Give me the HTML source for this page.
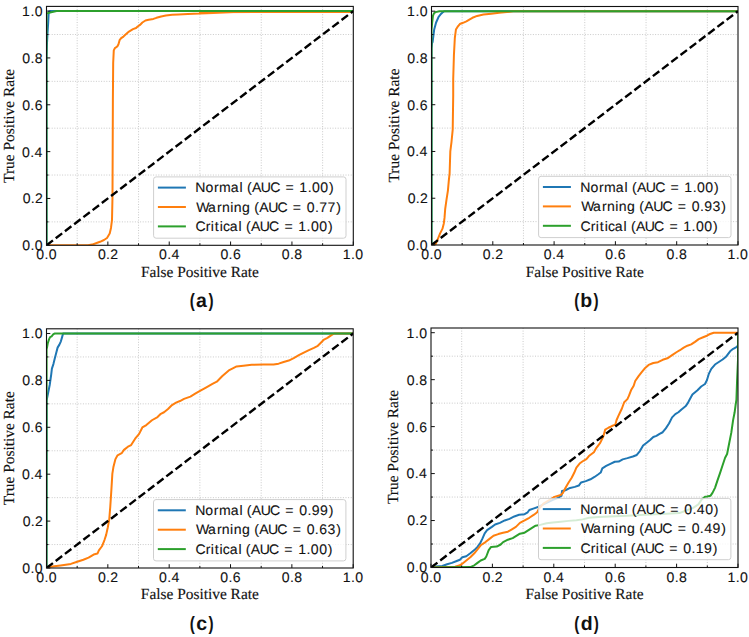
<!DOCTYPE html><html><head><meta charset="utf-8"><style>html,body{margin:0;padding:0;background:#fff;width:749px;height:637px;overflow:hidden}svg{display:block;text-rendering:geometricPrecision}.t{font-family:"Liberation Sans",sans-serif;font-size:13.8px;fill:#111;stroke:#111;stroke-width:0.1px}.l{font-family:"Liberation Sans",sans-serif;font-size:13.8px;fill:#111;stroke:#111;stroke-width:0.1px}.s{font-family:"Liberation Serif",serif;font-size:15.4px;fill:#111;stroke:#111;stroke-width:0.15px}.p{font-family:"Liberation Sans",sans-serif;font-size:19.5px;font-weight:bold;fill:#111}</style></head><body>
<svg width="749" height="637" viewBox="0 0 749 637">
<rect width="749" height="637" fill="#fff"/>
<g>
<path d="M77.18 6.40V245.30M46.50 221.88H353.30M138.54 6.40V245.30M46.50 175.04H353.30M199.90 6.40V245.30M46.50 128.19H353.30M261.26 6.40V245.30M46.50 81.35H353.30M322.62 6.40V245.30M46.50 34.51H353.30" stroke="#c4c4c4" stroke-width="0.9" stroke-dasharray="1 1.6" fill="none"/>
<clipPath id="clipa"><rect x="46.50" y="6.40" width="306.80" height="238.90"/></clipPath>
<g clip-path="url(#clipa)" fill="none" stroke-width="2" stroke-linejoin="round" stroke-linecap="butt">
<path d="M46.50,245.30 46.50,57.93 46.96,43.87 47.57,32.16 48.19,22.80 48.59,14.60 48.95,11.55 50.18,11.08 353.30,11.08" stroke="#1f77b4"/>
<path d="M46.50,245.30 88.01,245.30 92.00,244.60 95.99,243.19 99.98,241.81 103.99,240.01 107.00,237.99 109.70,233.59 110.99,227.99 112.00,219.98 112.48,197.50 112.68,150.40 112.88,100.30 113.18,63.02 113.78,50.39 114.88,48.09 117.28,46.48 118.48,44.18 119.58,40.17 121.18,38.17 123.47,36.56 125.87,34.36 128.97,31.55 132.97,29.15 136.07,28.05 137.67,26.54 139.97,24.94 142.37,22.53 145.47,20.53 148.67,19.73 153.37,18.93 156.46,17.82 161.16,16.42 165.86,15.52 172.16,14.72 178.46,14.42 187.85,14.12 199.95,13.62 219.94,12.71 239.94,12.01 257.93,11.08 199.90,12.14 276.60,12.02 350.23,11.90 353.30,11.08" stroke="#ff7f0e"/>
<path d="M46.50,245.30 46.50,13.43 51.10,12.26 56.62,11.08 353.30,11.08" stroke="#2ca02c"/>
<path d="M46.50 245.30L353.30 11.08" stroke="#000" stroke-width="2.4" stroke-dasharray="8.1 3.5" fill="none"/>
</g>
<path d="M46.50 245.30v-3.8M46.50 245.30h3.8M107.86 245.30v-3.8M46.50 198.46h3.8M169.22 245.30v-3.8M46.50 151.61h3.8M230.58 245.30v-3.8M46.50 104.77h3.8M291.94 245.30v-3.8M46.50 57.93h3.8M353.30 245.30v-3.8M46.50 11.08h3.8M77.18 245.30v-2M46.50 221.88h2M138.54 245.30v-2M46.50 175.04h2M199.90 245.30v-2M46.50 128.19h2M261.26 245.30v-2M46.50 81.35h2M322.62 245.30v-2M46.50 34.51h2" stroke="#111" stroke-width="1" fill="none"/>
<rect x="46.50" y="6.40" width="306.80" height="238.90" fill="none" stroke="#111" stroke-width="1.1"/>
<text class="t" transform="translate(36.09,259.30) scale(1.02,1)" x="0.25 8.29 12.50">0.0</text>
<text class="t" transform="translate(21.94,250.20) scale(1.02,1)" x="0.25 8.29 12.50">0.0</text>
<text class="t" transform="translate(97.67,259.30) scale(1.02,1)" x="0.25 8.29 12.33">0.2</text>
<text class="t" transform="translate(22.38,203.36) scale(1.02,1)" x="0.25 8.29 12.33">0.2</text>
<text class="t" transform="translate(158.74,259.30) scale(1.02,1)" x="0.25 8.29 12.50">0.4</text>
<text class="t" transform="translate(21.80,156.51) scale(1.02,1)" x="0.25 8.29 12.50">0.4</text>
<text class="t" transform="translate(220.14,259.30) scale(1.02,1)" x="0.25 8.29 12.50">0.6</text>
<text class="t" transform="translate(21.89,109.67) scale(1.02,1)" x="0.25 8.29 12.50">0.6</text>
<text class="t" transform="translate(281.54,259.30) scale(1.02,1)" x="0.25 8.29 12.50">0.8</text>
<text class="t" transform="translate(21.96,62.83) scale(1.02,1)" x="0.25 8.29 12.50">0.8</text>
<text class="t" transform="translate(342.60,259.30) scale(1.02,1)" x="0.17 8.29 12.50">1.0</text>
<text class="t" transform="translate(21.94,15.98) scale(1.02,1)" x="0.17 8.29 12.50">1.0</text>
<text class="s" x="199.90" y="276.90" text-anchor="middle">False Positive Rate</text>
<text class="s" transform="translate(13.60,125.90) rotate(-90)" x="0" y="0" text-anchor="middle">True Positive Rate</text>
<text class="p" transform="translate(192.75,306.90) scale(0.78,1)" x="-3.72">(</text>
<text class="p" transform="translate(201.80,306.90) scale(1.0,1)" x="-5.77">a</text>
<text class="p" transform="translate(210.75,306.90) scale(0.78,1)" x="-2.77">)</text>
<rect x="153.60" y="176.90" width="192.40" height="61.30" rx="2.5" fill="#fff" fill-opacity="0.8" stroke="#cfcfcf" stroke-width="1"/>
<path d="M157.90 187.60h28" stroke="#1f77b4" stroke-width="2" fill="none"/>
<text class="l" transform="translate(195.51,192.30) scale(1.02,1)" x="-0.18 9.70 18.05 23.06 34.64 43.15 46.59 50.41 55.35 64.06 73.17 82.84 88.15 97.68 101.81 109.93 114.14 122.31 130.79">Normal (AUC = 1.00)</text>
<path d="M157.90 207.00h28" stroke="#ff7f0e" stroke-width="2" fill="none"/>
<text class="l" transform="translate(196.37,211.70) scale(1.02,1)" x="-0.17 11.48 20.33 25.06 33.20 36.77 44.81 52.93 56.74 61.68 70.40 79.51 89.17 94.49 104.02 108.22 116.26 120.45 128.62 137.13">Warning (AUC = 0.77)</text>
<path d="M157.90 226.40h28" stroke="#2ca02c" stroke-width="2" fill="none"/>
<text class="l" transform="translate(196.06,231.10) scale(1.02,1)" x="-0.57 9.55 14.51 18.38 23.11 26.35 33.09 41.60 45.04 48.86 53.80 62.52 71.62 81.29 86.60 96.13 100.26 108.38 112.59 120.76 129.25">Critical (AUC = 1.00)</text>
</g>
<g>
<path d="M462.15 6.50V245.00M431.50 221.62H738.00M523.45 6.50V245.00M431.50 174.85H738.00M584.75 6.50V245.00M431.50 128.09H738.00M646.05 6.50V245.00M431.50 81.32H738.00M707.35 6.50V245.00M431.50 34.56H738.00" stroke="#c4c4c4" stroke-width="0.9" stroke-dasharray="1 1.6" fill="none"/>
<clipPath id="clipb"><rect x="431.50" y="6.50" width="306.50" height="238.50"/></clipPath>
<g clip-path="url(#clipb)" fill="none" stroke-width="2" stroke-linejoin="round" stroke-linecap="butt">
<path d="M431.50,245.00 431.50,48.52 432.10,42.92 432.60,42.01 434.20,29.41 436.10,22.51 438.60,16.80 441.21,13.70 443.01,12.10 444.21,11.18 738.00,11.18" stroke="#1f77b4"/>
<path d="M431.50,245.00 435.60,244.40 437.90,238.90 440.11,233.40 442.41,228.89 443.81,223.39 444.51,217.89 445.21,208.78 446.51,199.68 447.91,190.58 448.81,180.57 449.61,173.27 450.31,151.46 451.51,141.76 452.71,129.55 453.21,95.54 453.21,79.03 453.91,55.42 454.82,38.21 455.92,29.51 457.52,26.91 459.82,24.01 463.02,22.81 466.42,21.41 469.32,19.71 472.43,17.80 477.13,15.90 483.43,14.60 491.24,13.70 499.14,12.70 506.95,12.10 513.25,11.18 520.36,11.18 738.00,11.18" stroke="#ff7f0e"/>
<path d="M431.50,245.00 431.50,30.51 432.10,23.11 433.00,15.60 434.00,13.30 435.50,12.10 439.31,11.18 738.00,11.18" stroke="#2ca02c"/>
<path d="M431.50 245.00L738.00 11.18" stroke="#000" stroke-width="2.4" stroke-dasharray="8.1 3.5" fill="none"/>
</g>
<path d="M431.50 245.00v-3.8M431.50 245.00h3.8M492.80 245.00v-3.8M431.50 198.24h3.8M554.10 245.00v-3.8M431.50 151.47h3.8M615.40 245.00v-3.8M431.50 104.71h3.8M676.70 245.00v-3.8M431.50 57.94h3.8M738.00 245.00v-3.8M431.50 11.18h3.8M462.15 245.00v-2M431.50 221.62h2M523.45 245.00v-2M431.50 174.85h2M584.75 245.00v-2M431.50 128.09h2M646.05 245.00v-2M431.50 81.32h2M707.35 245.00v-2M431.50 34.56h2" stroke="#111" stroke-width="1" fill="none"/>
<rect x="431.50" y="6.50" width="306.50" height="238.50" fill="none" stroke="#111" stroke-width="1.1"/>
<text class="t" transform="translate(421.09,259.10) scale(1.02,1)" x="0.25 8.29 12.50">0.0</text>
<text class="t" transform="translate(406.94,249.90) scale(1.02,1)" x="0.25 8.29 12.50">0.0</text>
<text class="t" transform="translate(482.61,259.10) scale(1.02,1)" x="0.25 8.29 12.33">0.2</text>
<text class="t" transform="translate(407.38,203.14) scale(1.02,1)" x="0.25 8.29 12.33">0.2</text>
<text class="t" transform="translate(543.62,259.10) scale(1.02,1)" x="0.25 8.29 12.50">0.4</text>
<text class="t" transform="translate(406.80,156.37) scale(1.02,1)" x="0.25 8.29 12.50">0.4</text>
<text class="t" transform="translate(604.96,259.10) scale(1.02,1)" x="0.25 8.29 12.50">0.6</text>
<text class="t" transform="translate(406.89,109.61) scale(1.02,1)" x="0.25 8.29 12.50">0.6</text>
<text class="t" transform="translate(666.30,259.10) scale(1.02,1)" x="0.25 8.29 12.50">0.8</text>
<text class="t" transform="translate(406.96,62.84) scale(1.02,1)" x="0.25 8.29 12.50">0.8</text>
<text class="t" transform="translate(727.30,259.10) scale(1.02,1)" x="0.17 8.29 12.50">1.0</text>
<text class="t" transform="translate(406.94,16.08) scale(1.02,1)" x="0.17 8.29 12.50">1.0</text>
<text class="s" x="584.75" y="276.90" text-anchor="middle">False Positive Rate</text>
<text class="s" transform="translate(399.00,125.55) rotate(-90)" x="0" y="0" text-anchor="middle">True Positive Rate</text>
<text class="p" transform="translate(577.05,306.90) scale(0.78,1)" x="-3.72">(</text>
<text class="p" transform="translate(586.45,306.90) scale(1.0,1)" x="-6.20">b</text>
<text class="p" transform="translate(595.75,306.90) scale(0.78,1)" x="-2.77">)</text>
<rect x="538.60" y="176.30" width="192.40" height="61.30" rx="2.5" fill="#fff" fill-opacity="0.8" stroke="#cfcfcf" stroke-width="1"/>
<path d="M542.90 187.00h28" stroke="#1f77b4" stroke-width="2" fill="none"/>
<text class="l" transform="translate(580.51,191.70) scale(1.02,1)" x="-0.18 9.70 18.05 23.06 34.64 43.15 46.59 50.41 55.35 64.06 73.17 82.84 88.15 97.68 101.81 109.93 114.14 122.31 130.79">Normal (AUC = 1.00)</text>
<path d="M542.90 206.40h28" stroke="#ff7f0e" stroke-width="2" fill="none"/>
<text class="l" transform="translate(581.37,211.10) scale(1.02,1)" x="-0.17 11.48 20.33 25.06 33.20 36.77 44.81 52.93 56.74 61.68 70.40 79.51 89.17 94.49 104.02 108.22 116.26 120.43 128.66 137.13">Warning (AUC = 0.93)</text>
<path d="M542.90 225.80h28" stroke="#2ca02c" stroke-width="2" fill="none"/>
<text class="l" transform="translate(581.06,230.50) scale(1.02,1)" x="-0.57 9.55 14.51 18.38 23.11 26.35 33.09 41.60 45.04 48.86 53.80 62.52 71.62 81.29 86.60 96.13 100.26 108.38 112.59 120.76 129.25">Critical (AUC = 1.00)</text>
</g>
<g>
<path d="M77.17 328.80V568.00M46.50 544.55H353.20M138.51 328.80V568.00M46.50 497.65H353.20M199.85 328.80V568.00M46.50 450.75H353.20M261.19 328.80V568.00M46.50 403.84H353.20M322.53 328.80V568.00M46.50 356.94H353.20" stroke="#c4c4c4" stroke-width="0.9" stroke-dasharray="1 1.6" fill="none"/>
<clipPath id="clipc"><rect x="46.50" y="328.80" width="306.70" height="239.20"/></clipPath>
<g clip-path="url(#clipc)" fill="none" stroke-width="2" stroke-linejoin="round" stroke-linecap="butt">
<path d="M46.50,568.00 46.60,400.32 47.00,398.42 48.20,392.51 49.70,384.99 51.20,374.58 51.90,368.57 53.40,364.06 54.89,358.05 56.39,352.14 57.59,347.63 59.39,344.63 60.89,341.32 62.09,337.11 63.09,333.49 63.59,333.49 353.20,333.49" stroke="#1f77b4"/>
<path d="M46.50,568.00 47.10,567.40 52.30,566.60 60.59,565.40 70.88,563.89 77.18,561.79 83.38,559.79 88.57,557.68 93.67,554.58 97.47,553.58 98.87,550.37 101.96,546.26 104.46,540.05 106.16,534.84 107.76,527.53 109.26,519.32 110.26,506.80 111.36,490.17 112.36,473.64 113.36,467.33 115.46,459.12 117.55,455.31 121.65,453.21 123.95,449.90 127.95,446.70 131.14,445.09 135.14,438.68 139.14,433.88 142.34,427.46 146.33,425.06 151.93,420.25 157.53,417.05 160.83,413.84 164.02,412.24 168.02,409.03 172.02,405.03 176.02,402.62 180.01,401.02 184.01,398.92 190.41,396.61 195.20,393.71 200.00,390.90 206.40,387.30 211.99,384.09 216.79,381.69 222.39,376.08 228.78,370.47 233.28,368.17 236.58,366.46 243.37,365.66 251.77,364.76 263.46,364.46 273.55,364.46 278.65,363.66 283.65,361.96 288.74,360.55 293.74,358.05 298.84,355.14 303.83,352.54 308.93,350.14 313.93,347.93 317.32,346.23 320.62,342.92 324.02,339.52 327.42,337.82 330.71,335.61 334.11,333.49 337.51,333.49 353.20,333.49" stroke="#ff7f0e"/>
<path d="M46.50,568.00 46.60,349.23 47.00,347.63 47.80,343.12 49.00,339.42 50.10,337.11 51.60,336.41 53.40,334.21 54.89,333.49 353.20,333.49" stroke="#2ca02c"/>
<path d="M46.50 568.00L353.20 333.49" stroke="#000" stroke-width="2.4" stroke-dasharray="8.1 3.5" fill="none"/>
</g>
<path d="M46.50 568.00v-3.8M46.50 568.00h3.8M107.84 568.00v-3.8M46.50 521.10h3.8M169.18 568.00v-3.8M46.50 474.20h3.8M230.52 568.00v-3.8M46.50 427.29h3.8M291.86 568.00v-3.8M46.50 380.39h3.8M353.20 568.00v-3.8M46.50 333.49h3.8M77.17 568.00v-2M46.50 544.55h2M138.51 568.00v-2M46.50 497.65h2M199.85 568.00v-2M46.50 450.75h2M261.19 568.00v-2M46.50 403.84h2M322.53 568.00v-2M46.50 356.94h2" stroke="#111" stroke-width="1" fill="none"/>
<rect x="46.50" y="328.80" width="306.70" height="239.20" fill="none" stroke="#111" stroke-width="1.1"/>
<text class="t" transform="translate(36.09,582.00) scale(1.02,1)" x="0.25 8.29 12.50">0.0</text>
<text class="t" transform="translate(21.94,572.90) scale(1.02,1)" x="0.25 8.29 12.50">0.0</text>
<text class="t" transform="translate(97.65,582.00) scale(1.02,1)" x="0.25 8.29 12.33">0.2</text>
<text class="t" transform="translate(22.38,526.00) scale(1.02,1)" x="0.25 8.29 12.33">0.2</text>
<text class="t" transform="translate(158.70,582.00) scale(1.02,1)" x="0.25 8.29 12.50">0.4</text>
<text class="t" transform="translate(21.80,479.10) scale(1.02,1)" x="0.25 8.29 12.50">0.4</text>
<text class="t" transform="translate(220.08,582.00) scale(1.02,1)" x="0.25 8.29 12.50">0.6</text>
<text class="t" transform="translate(21.89,432.19) scale(1.02,1)" x="0.25 8.29 12.50">0.6</text>
<text class="t" transform="translate(281.46,582.00) scale(1.02,1)" x="0.25 8.29 12.50">0.8</text>
<text class="t" transform="translate(21.96,385.29) scale(1.02,1)" x="0.25 8.29 12.50">0.8</text>
<text class="t" transform="translate(342.50,582.00) scale(1.02,1)" x="0.17 8.29 12.50">1.0</text>
<text class="t" transform="translate(21.94,338.39) scale(1.02,1)" x="0.17 8.29 12.50">1.0</text>
<text class="s" x="199.85" y="599.40" text-anchor="middle">False Positive Rate</text>
<text class="s" transform="translate(13.60,448.20) rotate(-90)" x="0" y="0" text-anchor="middle">True Positive Rate</text>
<text class="p" transform="translate(192.65,630.10) scale(0.78,1)" x="-3.72">(</text>
<text class="p" transform="translate(201.70,630.10) scale(1.0,1)" x="-5.52">c</text>
<text class="p" transform="translate(210.65,630.10) scale(0.78,1)" x="-2.77">)</text>
<rect x="153.50" y="499.60" width="192.40" height="61.30" rx="2.5" fill="#fff" fill-opacity="0.8" stroke="#cfcfcf" stroke-width="1"/>
<path d="M157.80 510.30h28" stroke="#1f77b4" stroke-width="2" fill="none"/>
<text class="l" transform="translate(195.41,515.00) scale(1.02,1)" x="-0.18 9.70 18.05 23.06 34.64 43.15 46.59 50.41 55.35 64.06 73.17 82.84 88.15 97.68 101.89 109.93 114.10 122.27 130.79">Normal (AUC = 0.99)</text>
<path d="M157.80 529.70h28" stroke="#ff7f0e" stroke-width="2" fill="none"/>
<text class="l" transform="translate(196.27,534.40) scale(1.02,1)" x="-0.17 11.48 20.33 25.06 33.20 36.77 44.81 52.93 56.74 61.68 70.40 79.51 89.17 94.49 104.02 108.22 116.26 120.47 128.66 137.13">Warning (AUC = 0.63)</text>
<path d="M157.80 549.10h28" stroke="#2ca02c" stroke-width="2" fill="none"/>
<text class="l" transform="translate(195.96,553.80) scale(1.02,1)" x="-0.57 9.55 14.51 18.38 23.11 26.35 33.09 41.60 45.04 48.86 53.80 62.52 71.62 81.29 86.60 96.13 100.26 108.38 112.59 120.76 129.25">Critical (AUC = 1.00)</text>
</g>
<g>
<path d="M461.70 328.00V567.50M431.00 544.02H738.00M523.10 328.00V567.50M431.00 497.06H738.00M584.50 328.00V567.50M431.00 450.10H738.00M645.90 328.00V567.50M431.00 403.14H738.00M707.30 328.00V567.50M431.00 356.18H738.00" stroke="#c4c4c4" stroke-width="0.9" stroke-dasharray="1 1.6" fill="none"/>
<clipPath id="clipd"><rect x="431.00" y="328.00" width="307.00" height="239.50"/></clipPath>
<g clip-path="url(#clipd)" fill="none" stroke-width="2" stroke-linejoin="round" stroke-linecap="butt">
<path d="M431.00,567.50 435.90,566.40 442.30,566.00 447.10,564.20 451.90,562.90 456.70,561.00 459.90,559.70 462.30,557.30 466.30,556.20 470.30,553.29 474.30,550.09 477.50,546.89 479.90,543.69 482.30,538.89 484.70,533.29 487.10,530.08 491.90,526.88 495.10,524.48 499.90,522.88 504.70,520.48 509.50,518.88 514.30,516.48 519.10,514.78 524.60,514.18 527.70,512.28 529.30,509.98 534.00,508.38 538.70,506.77 543.40,504.47 548.20,502.07 552.90,499.77 557.60,498.17 561.50,495.77 562.00,491.07 565.40,490.27 570.10,487.97 574.80,486.87 578.80,485.57 581.10,482.46 585.80,481.16 590.50,479.26 594.50,476.96 598.40,474.26 600.70,472.56 602.30,468.36 606.20,465.96 610.90,463.66 614.80,461.76 618.70,461.56 622.70,459.35 627.40,458.15 632.90,456.55 636.80,454.95 639.90,451.05 643.10,445.55 647.00,442.45 650.10,440.05 653.30,436.95 656.40,435.85 659.60,433.84 662.70,432.24 665.80,428.34 669.00,423.54 672.10,417.34 675.30,414.14 678.40,412.24 681.50,409.43 685.50,406.33 687.80,403.13 689.40,400.03 692.40,394.53 697.50,390.23 701.20,386.52 705.00,384.02 706.90,380.22 708.80,373.92 711.30,368.92 715.00,364.52 718.80,362.01 722.60,359.51 726.30,356.41 730.10,351.31 733.20,348.81 736.40,347.01 738.00,345.51 738.00,332.70" stroke="#1f77b4"/>
<path d="M431.00,567.50 455.10,566.70 459.90,565.30 462.30,563.70 466.30,560.50 470.30,557.30 474.30,553.29 477.50,549.29 480.70,545.29 485.50,542.09 489.50,538.89 493.50,535.69 498.30,534.09 503.10,532.79 507.90,531.69 511.90,529.28 515.90,526.88 519.90,522.88 524.60,520.48 529.30,517.78 534.00,514.68 537.20,512.28 538.70,509.18 543.40,503.67 549.70,499.77 554.40,496.87 560.70,494.97 563.10,492.67 565.40,487.97 568.60,482.46 571.70,477.76 574.10,473.06 576.40,467.56 579.60,463.56 582.70,461.26 586.40,459.05 588.90,456.05 593.90,452.25 596.40,447.85 600.20,442.85 603.30,436.55 605.20,429.64 608.40,427.74 611.90,426.04 615.30,424.64 616.50,420.24 618.40,415.84 619.90,412.74 621.90,408.53 624.20,402.23 627.40,399.13 628.90,395.93 631.30,389.73 633.70,385.72 635.20,381.02 638.40,376.32 641.50,372.42 644.60,368.52 648.60,364.92 653.30,363.01 658.00,362.21 662.70,359.81 667.40,358.31 672.10,355.11 676.80,352.01 679.90,350.21 683.70,347.61 687.40,345.71 691.20,344.41 695.00,341.91 698.70,339.10 702.50,337.50 706.90,335.70 710.00,334.00 713.80,332.70 720.10,332.70 727.60,332.70 738.00,332.70 738.00,332.70" stroke="#ff7f0e"/>
<path d="M431.00,567.50 470.30,567.10 474.30,565.30 477.50,562.90 480.70,560.50 484.70,558.90 486.30,556.50 488.70,550.09 491.10,546.89 496.70,546.59 500.70,544.49 503.10,542.09 507.90,539.69 512.70,538.09 516.70,535.69 519.90,533.69 524.60,532.69 529.30,529.58 533.20,527.18 535.60,525.68 540.30,524.88 546.60,523.28 552.90,522.48 560.70,521.68 568.60,520.88 576.40,520.18 582.70,519.38 589.00,517.78 598.40,516.98 609.90,516.58 627.30,515.68 644.60,514.78 662.00,513.98 679.30,513.08 686.30,510.48 693.20,507.88 698.40,504.37 701.90,499.17 705.00,496.67 707.10,496.47 710.60,495.67 712.50,492.87 715.00,487.87 717.50,480.36 720.10,472.86 722.60,465.26 725.10,457.75 727.10,454.05 728.80,445.25 731.30,432.64 733.10,420.14 734.60,412.54 735.60,405.03 736.40,400.03 737.10,380.02 738.00,360.01 738.00,332.70 738.00,332.70" stroke="#2ca02c"/>
<path d="M431.00 567.50L738.00 332.70" stroke="#000" stroke-width="2.4" stroke-dasharray="8.1 3.5" fill="none"/>
</g>
<path d="M431.00 567.50v-3.8M431.00 567.50h3.8M492.40 567.50v-3.8M431.00 520.54h3.8M553.80 567.50v-3.8M431.00 473.58h3.8M615.20 567.50v-3.8M431.00 426.62h3.8M676.60 567.50v-3.8M431.00 379.66h3.8M738.00 567.50v-3.8M431.00 332.70h3.8M461.70 567.50v-2M431.00 544.02h2M523.10 567.50v-2M431.00 497.06h2M584.50 567.50v-2M431.00 450.10h2M645.90 567.50v-2M431.00 403.14h2M707.30 567.50v-2M431.00 356.18h2" stroke="#111" stroke-width="1" fill="none"/>
<rect x="431.00" y="328.00" width="307.00" height="239.50" fill="none" stroke="#111" stroke-width="1.1"/>
<text class="t" transform="translate(420.59,582.00) scale(1.02,1)" x="0.25 8.29 12.50">0.0</text>
<text class="t" transform="translate(406.44,572.40) scale(1.02,1)" x="0.25 8.29 12.50">0.0</text>
<text class="t" transform="translate(482.21,582.00) scale(1.02,1)" x="0.25 8.29 12.33">0.2</text>
<text class="t" transform="translate(406.88,525.44) scale(1.02,1)" x="0.25 8.29 12.33">0.2</text>
<text class="t" transform="translate(543.32,582.00) scale(1.02,1)" x="0.25 8.29 12.50">0.4</text>
<text class="t" transform="translate(406.30,478.48) scale(1.02,1)" x="0.25 8.29 12.50">0.4</text>
<text class="t" transform="translate(604.76,582.00) scale(1.02,1)" x="0.25 8.29 12.50">0.6</text>
<text class="t" transform="translate(406.39,431.52) scale(1.02,1)" x="0.25 8.29 12.50">0.6</text>
<text class="t" transform="translate(666.20,582.00) scale(1.02,1)" x="0.25 8.29 12.50">0.8</text>
<text class="t" transform="translate(406.46,384.56) scale(1.02,1)" x="0.25 8.29 12.50">0.8</text>
<text class="t" transform="translate(727.30,582.00) scale(1.02,1)" x="0.17 8.29 12.50">1.0</text>
<text class="t" transform="translate(406.44,337.60) scale(1.02,1)" x="0.17 8.29 12.50">1.0</text>
<text class="s" x="584.50" y="599.40" text-anchor="middle">False Positive Rate</text>
<text class="s" transform="translate(398.00,447.00) rotate(-90)" x="0" y="0" text-anchor="middle">True Positive Rate</text>
<text class="p" transform="translate(577.10,630.10) scale(0.78,1)" x="-3.72">(</text>
<text class="p" transform="translate(586.50,630.10) scale(1.0,1)" x="-5.71">d</text>
<text class="p" transform="translate(595.80,630.10) scale(0.78,1)" x="-2.77">)</text>
<rect x="538.50" y="498.40" width="192.40" height="61.30" rx="2.5" fill="#fff" fill-opacity="0.8" stroke="#cfcfcf" stroke-width="1"/>
<path d="M542.80 509.10h28" stroke="#1f77b4" stroke-width="2" fill="none"/>
<text class="l" transform="translate(580.41,513.80) scale(1.02,1)" x="-0.18 9.70 18.05 23.06 34.64 43.15 46.59 50.41 55.35 64.06 73.17 82.84 88.15 97.68 101.89 109.93 114.14 122.31 130.79">Normal (AUC = 0.40)</text>
<path d="M542.80 528.50h28" stroke="#ff7f0e" stroke-width="2" fill="none"/>
<text class="l" transform="translate(581.27,533.20) scale(1.02,1)" x="-0.17 11.48 20.33 25.06 33.20 36.77 44.81 52.93 56.74 61.68 70.40 79.51 89.17 94.49 104.02 108.22 116.26 120.47 128.60 137.13">Warning (AUC = 0.49)</text>
<path d="M542.80 547.90h28" stroke="#2ca02c" stroke-width="2" fill="none"/>
<text class="l" transform="translate(580.96,552.60) scale(1.02,1)" x="-0.57 9.55 14.51 18.38 23.11 26.35 33.09 41.60 45.04 48.86 53.80 62.52 71.62 81.29 86.60 96.13 100.34 108.38 112.52 120.72 129.25">Critical (AUC = 0.19)</text>
</g>
</svg></body></html>
